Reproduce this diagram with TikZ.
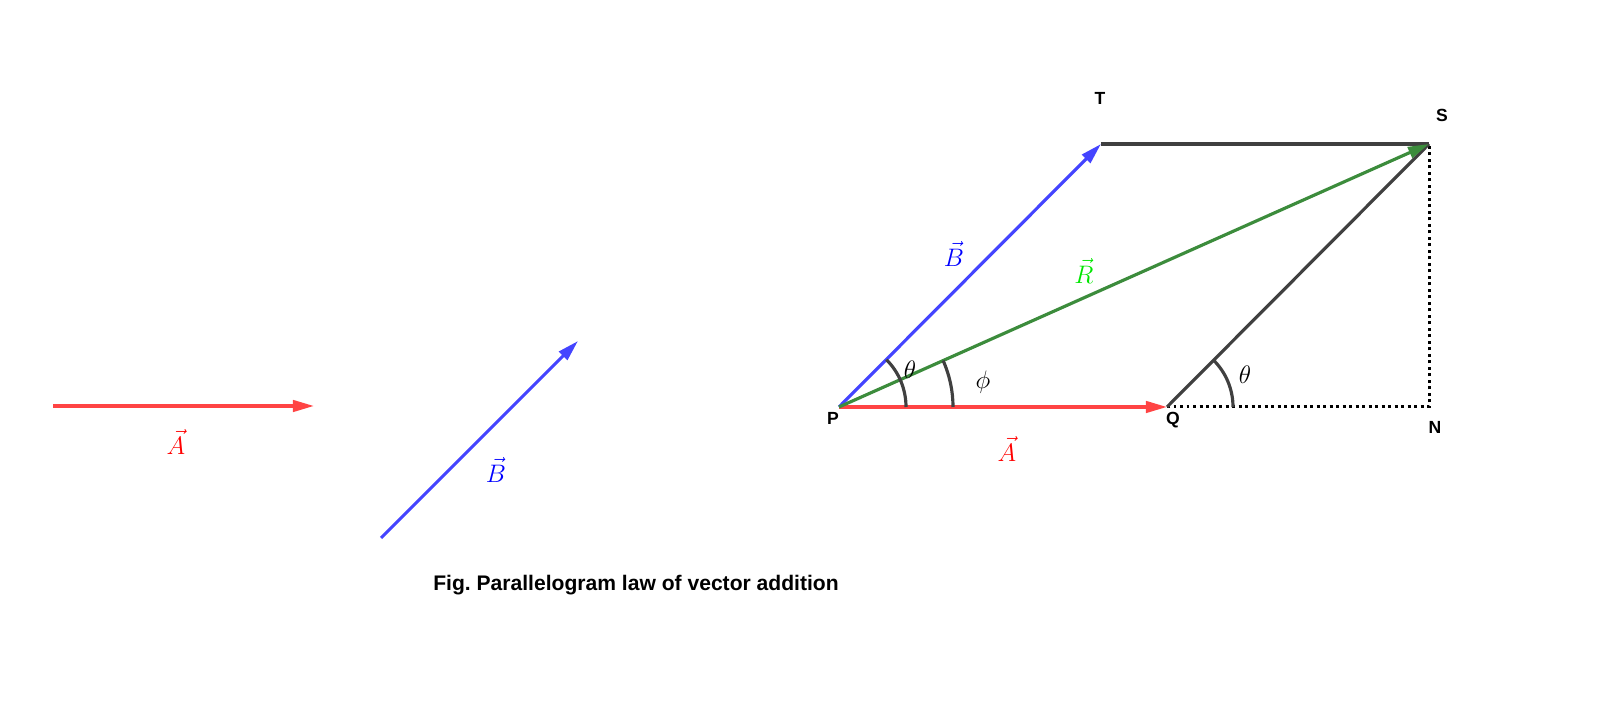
\documentclass[tikz,border=0pt]{standalone}
\usepackage{amsmath}
\usepackage{amssymb}
\usepackage{xcolor}
\usepackage{fontspec}
\setsansfont{Liberation Sans}
\usepackage{tikz}
\usetikzlibrary{shapes,arrows,arrows.meta}

\definecolor{vecred}{RGB}{255,68,68}
\definecolor{vecblue}{RGB}{68,68,255}
\definecolor{vecgreen}{RGB}{60,140,60}
\definecolor{rlabel}{RGB}{0,230,0}
\definecolor{edge}{RGB}{64,64,64}

\tikzset{
  vec/.style={line width=1.8pt, -{Triangle[length=12pt,width=6.5pt]}},
  side/.style={line width=1.8pt, draw=edge},
  dotline/.style={line width=1.7pt, dotted, draw=black},
  anglearc/.style={line width=1.8pt, draw=edge},
  pt/.style={font=\sffamily\bfseries\fontsize{10}{12}\selectfont},
  mlab/.style={font=\fontsize{13.5}{15}\selectfont}
}

\begin{document}
\begin{tikzpicture}[x=0.02cm, y=0.02cm]
\useasboundingbox (0,0) rectangle (1600,702);
%
\coordinate (a0) at (53,296);
\coordinate (a1) at (314,296);
\coordinate (b0) at (381,164);
\coordinate (b1) at (578,361);
\draw[vec, vecred] (a0) -- (a1);
\draw[vec, vecblue] (b0) -- (b1);
\node[mlab, text=red] (la) at (176,260) {$\vec{A}$};
\node[mlab, text=blue] (lb) at (496,232) {$\vec{B}$};
%
\coordinate (P) at (839,295);
\coordinate (Q) at (1167,295);
\coordinate (N) at (1429,295);
\coordinate (S) at (1429,558);
\coordinate (T) at (1101,558);
%
\draw[dotline] (Q) -- (N) -- (S);
\draw[side] (T) -- (S);
\draw[side] (Q) -- (S);
\draw[vec, vecred] (P) -- (Q);
\draw[vec, vecblue] (P) -- (T);
\draw[vec, vecgreen] (P) -- (S);
%
\draw[anglearc] ([shift={(67,0)}]P) arc (0:45:67);
\draw[anglearc] ([shift={(114,0)}]P) arc (0:24.03:114);
\draw[anglearc] ([shift={(66,0)}]Q) arc (0:45:66);
%
\node[pt] (lP) at (833,284) {P};
\node[pt] (lQ) at (1173,282) {Q};
\node[pt] (lN) at (1435,275) {N};
\node[pt] (lS) at (1442,587) {S};
\node[pt] (lT) at (1100,604) {T};
%
\node[mlab] (th1) at (910,332) {$\theta$};
\node[mlab] (ph) at (983,320) {$\phi$};
\node[mlab] (th2) at (1245,327) {$\theta$};
\node[mlab, text=rlabel] (lr) at (1084,431) {$\vec{R}$};
\node[mlab, text=blue] (lb2) at (954,448) {$\vec{B}$};
\node[mlab, text=red] (la2) at (1007,253) {$\vec{A}$};
%
\node[font=\sffamily\bfseries\fontsize{12}{15}\selectfont] (cap) at (636,117) {Fig.\ Parallelogram law of vector addition};
\end{tikzpicture}
\end{document}
